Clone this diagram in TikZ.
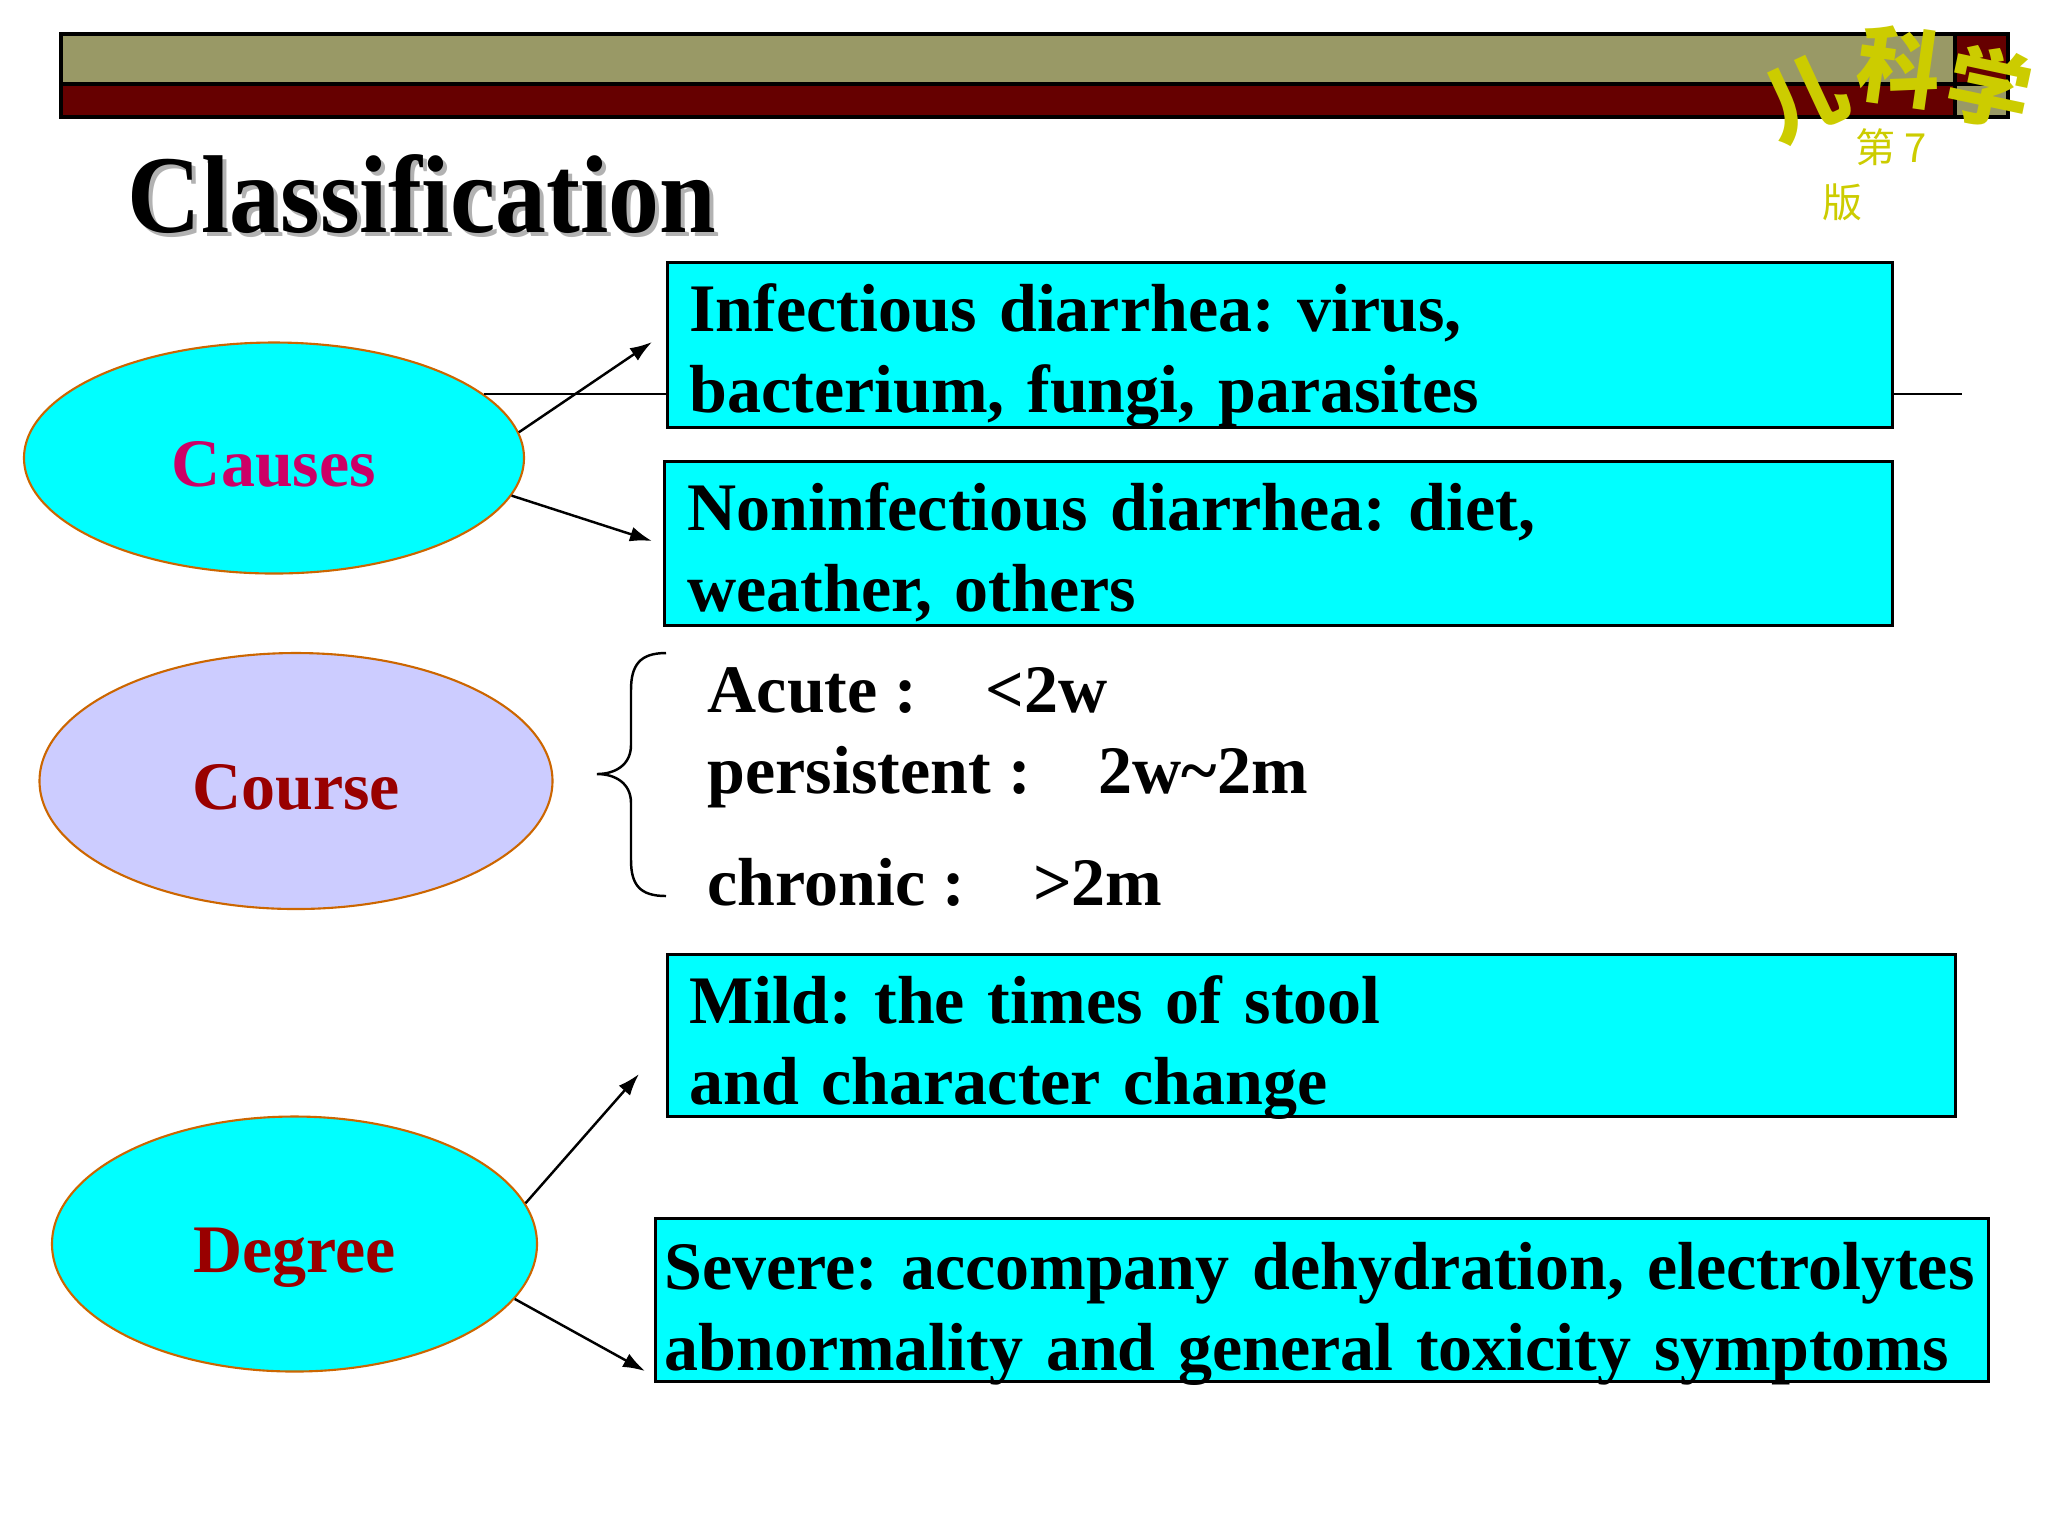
\documentclass[tikz,border=0pt]{standalone}
\usepackage{fontspec}
\usepackage{graphicx}
\setmainfont{Liberation Serif}
\newfontfamily\cjk{Noto Sans CJK SC}
\usetikzlibrary{shapes.geometric,arrows.meta,positioning}
\frenchspacing
\definecolor{barolive}{HTML}{999966}
\definecolor{barred}{HTML}{660000}
\definecolor{boxcyan}{HTML}{00FFFF}
\definecolor{lilac}{HTML}{CCCCFF}
\definecolor{rimorange}{HTML}{CC6600}
\definecolor{causepink}{HTML}{CC0066}
\definecolor{termred}{HTML}{990000}
\definecolor{logoyellow}{HTML}{CCCC00}
\newcommand{\boxfont}{\fontsize{19.35pt}{23.05pt}\selectfont\bfseries}
\newcommand{\titlefont}{\fontsize{31.5pt}{32pt}\selectfont\bfseries}
\newcommand{\logofont}{\cjk\bfseries\fontsize{24pt}{24pt}\selectfont}
\newcommand{\edfont}{\cjk\fontsize{11.4pt}{12pt}\selectfont}
\tikzset{
  oval/.style={ellipse, draw=rimorange, line width=0.6pt, inner sep=0pt, text height=5.6mm, text depth=0pt, font=\boxfont},
  infobox/.style={rectangle, draw=black, line width=0.8pt, fill=boxcyan, anchor=north west, inner ysep=0pt, inner xsep=2.2mm, align=left, text height=6.9mm, font=\boxfont},
  arr/.style={-{Latex[length=2.2mm,width=1.5mm]}, line width=0.7pt},
  courseline/.style={anchor=base west, inner sep=0pt, font=\boxfont}
}
\begin{document}
\begin{tikzpicture}[x=0.1mm,y=-0.1mm]
\useasboundingbox (0,0) rectangle (2048,1536);
% header bar
\fill[barolive] (61,34) rectangle (1955,84);
\fill[barred] (61,84) rectangle (1955,117);
\fill[barred] (1955,34) rectangle (2008,84);
\fill[barolive] (1955,84) rectangle (2008,117);
\draw[line width=0.9pt] (61,34) rectangle (2008,117);
\draw[line width=0.9pt] (61,84) -- (2008,84);
\draw[line width=0.9pt] (1955,34) -- (1955,117);
% logo
\node[text=logoyellow, font=\logofont, rotate=25] (er) at (1804,98) {儿};
\node[text=logoyellow, font=\logofont, rotate=-8] (ke) at (1900,67) {科};
\node[text=logoyellow, font=\logofont, rotate=-12] (xue) at (1990,87) {学};
\node[text=logoyellow, font=\edfont] (edition) at (1891,147) {第 7};
\node[text=logoyellow, font=\edfont] (ban) at (1843,202) {版};
% title
\node[anchor=base west, inner sep=0pt, text=black!30, font=\titlefont] (titleshadow) at (131,236) {\scalebox{0.92}[1]{Classification}};
\node[anchor=base west, inner sep=0pt, font=\titlefont] (title) at (127,232) {\scalebox{0.92}[1]{Classification}};
% ellipses
\node[oval, fill=boxcyan, minimum width=50mm, minimum height=23.1mm, text=causepink] (causes) at (274,458) {Causes};
\node[oval, fill=lilac, minimum width=51.3mm, minimum height=25.6mm, text=termred] (course) at (296,781) {Course};
\node[oval, fill=boxcyan, minimum width=48.5mm, minimum height=25.5mm, text=termred] (degree) at (294.5,1244) {Degree};
% stray rule
\coordinate (ruleend) at (1962,0);
\draw[line width=0.6pt] (causes.17.4) -- (causes.17.4 -| ruleend);
% boxes
\node[infobox, text width=118.1mm, text depth=9.6mm] (infect) at (666,261) {\mbox{Infectious diarrhea: virus,}\\\mbox{bacterium, fungi, parasites}};
\node[infobox, inner xsep=2.3mm, text width=118.2mm, text depth=9.5mm] (noninf) at (663,460) {\mbox{Noninfectious diarrhea: diet,}\\\mbox{weather, others}};
\node[infobox, text width=124.4mm, text depth=9.3mm] (mild) at (666,953) {\mbox{Mild: the times of stool}\\\mbox{and character change}};
\node[infobox, inner xsep=0.9mm, text width=131.5mm, text height=7.1mm, text depth=9.2mm] (severe) at (654,1217) {\mbox{Severe: accompany dehydration, electrolytes}\\\mbox{abnormality and general toxicity symptoms}};
% arrows
\coordinate (infecttip) at (652,342);
\coordinate (noninftip) at (652,541);
\coordinate (mildtip) at (639,1074);
\coordinate (severetip) at (645,1371);
\draw[arr] (causes.6) -- (infecttip);
\draw[arr] (causes.-9) -- (noninftip);
\draw[arr] (degree.10) -- (mildtip);
\draw[arr] (degree.-14) -- (severetip);
% course brace and terms
\draw[line width=0.7pt] (666,653) .. controls (640,653) and (631,665) .. (631,690) -- (631,745) .. controls (631,765) and (615,774) .. (597,774) .. controls (615,774) and (631,783) .. (631,803) -- (631,860) .. controls (631,885) and (640,896) .. (666,896);
\node[courseline] (acute) at (707,712) {Acute :\quad<2w};
\node[courseline] (persist) at (707,793) {persistent :\quad 2w\textasciitilde 2m};
\node[courseline] (chronic) at (707,905) {chronic :\quad>2m};
\end{tikzpicture}
\end{document}
